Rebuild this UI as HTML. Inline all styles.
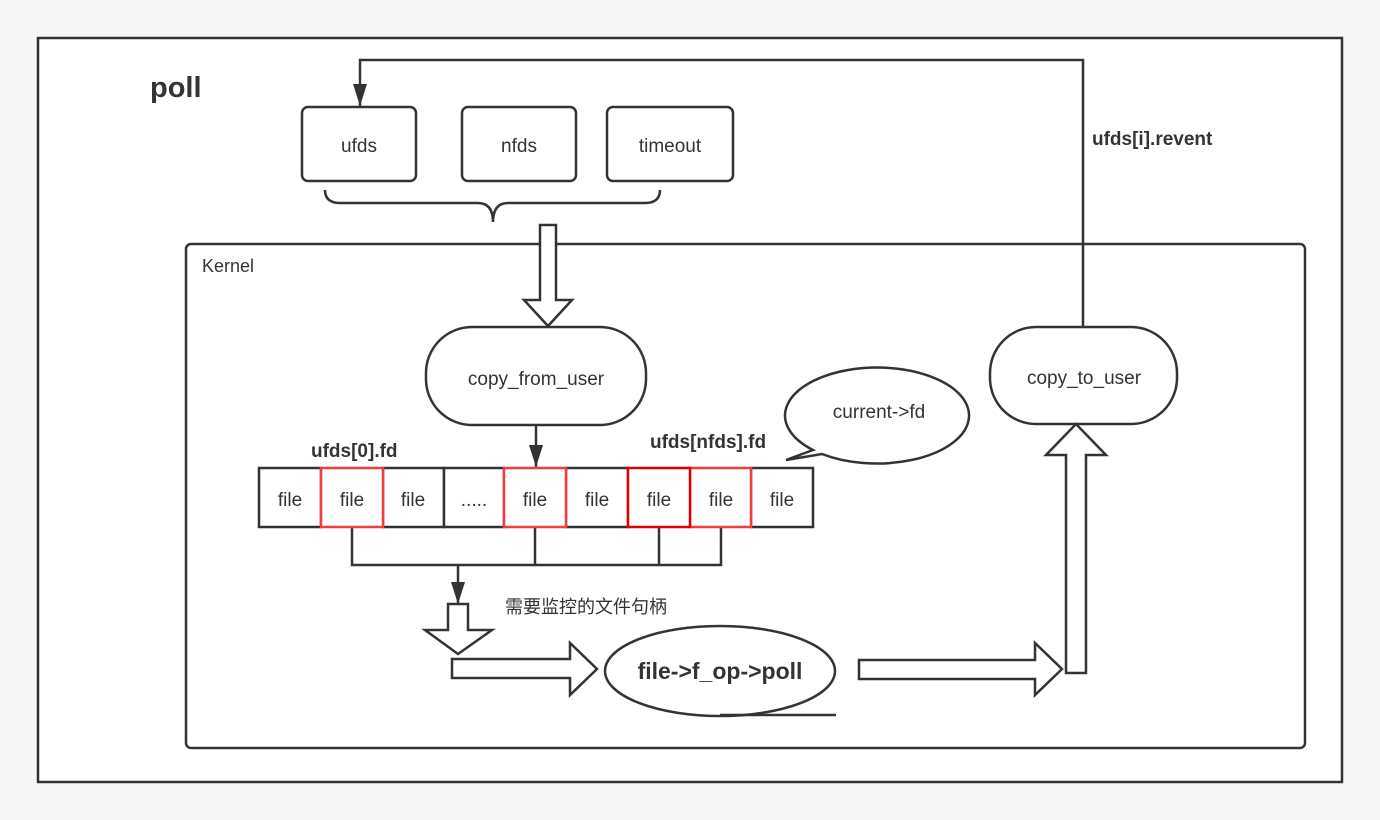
<!DOCTYPE html>
<html><head><meta charset="utf-8"><style>
html,body{margin:0;padding:0;background:#fff;}
svg{display:block;}
text{font-family:"Liberation Sans","Noto Sans CJK SC",sans-serif;fill:#333;}
</style></head><body>
<svg width="1380" height="820" viewBox="0 0 1380 820" xmlns="http://www.w3.org/2000/svg">
<defs>
<marker id="ah" markerWidth="24" markerHeight="16" refX="22" refY="7" orient="auto" markerUnits="userSpaceOnUse">
<path d="M0,0 L22,7 L0,14 Z" fill="#333"/></marker>
</defs>
<rect x="0" y="0" width="1380" height="820" fill="#f7f7f7"/>
<g stroke="#333" stroke-width="2.5" fill="none">
<rect x="38" y="38" width="1304" height="744" fill="#fff"/>
<rect x="186" y="244" width="1119" height="504" rx="5" fill="#fff"/>
<rect x="302" y="107" width="114" height="74" rx="6" fill="#fff"/>
<rect x="462" y="107" width="114" height="74" rx="6" fill="#fff"/>
<rect x="607" y="107" width="126" height="74" rx="6" fill="#fff"/>
<path d="M325,190 Q325,203 340,203 L478,203 Q493,203 493,222 Q493,203 508,203 L645,203 Q660,203 660,190"/>
<polygon points="540,225 556,225 556,300 572,300 548,326 524,300 540,300" fill="#fff"/>
<rect x="426" y="327" width="220" height="98" rx="46" fill="#fff"/>
<rect x="990" y="327" width="187" height="97" rx="46" fill="#fff"/>
<line x1="536" y1="425" x2="536" y2="467" marker-end="url(#ah)" stroke-width="2.5"/>
<path d="M1083,327 L1083,60 L360,60 L360,106" marker-end="url(#ah)"/>
<path d="M352,527 L352,565 L721,565 L721,527 M535,527 L535,565 M659,527 L659,565"/>
<line x1="458" y1="565" x2="458" y2="604" marker-end="url(#ah)"/>
<polygon points="448,604 468,604 468,630 492,630 458,654 425,630 448,630" fill="#fff"/>
<polygon points="452,659 570,659 570,643 597,669 570,695 570,678 452,678" fill="#fff"/>
<ellipse cx="720" cy="671" rx="115" ry="45" fill="#fff"/>
<line x1="720" y1="715" x2="836" y2="715"/>
<polygon points="859,660 1035,660 1035,643 1062,669 1035,695 1035,679 859,679" fill="#fff"/>
<polygon points="1066,673 1086,673 1086,455 1106,455 1076,424 1046,455 1066,455" fill="#fff"/>
<path d="M813,450 A92,48 0 1 1 822,454 L786,460 Z" fill="#fff"/>
</g>
<g stroke-width="2.5" fill="#fff">
<rect x="259" y="468" width="62" height="59" stroke="#333"/>
<rect x="383" y="468" width="61" height="59" stroke="#333"/>
<rect x="444" y="468" width="60" height="59" stroke="#333"/>
<rect x="566" y="468" width="62" height="59" stroke="#333"/>
<rect x="751" y="468" width="62" height="59" stroke="#333"/>
<rect x="321" y="468" width="62" height="59" stroke="#f03c3c"/>
<rect x="504" y="468" width="62" height="59" stroke="#f03c3c"/>
<rect x="690" y="468" width="61" height="59" stroke="#f03c3c"/>
<rect x="628" y="468" width="62" height="59" stroke="#e00000"/>
</g>
<g font-size="19" text-anchor="middle">
<text x="359" y="152">ufds</text>
<text x="519" y="152">nfds</text>
<text x="670" y="152">timeout</text>
<text x="536" y="385">copy_from_user</text>
<text x="1084" y="384">copy_to_user</text>
<text x="879" y="418">current-&gt;fd</text>
<text x="290" y="506">file</text><text x="352" y="506">file</text><text x="413" y="506">file</text>
<text x="474" y="506">.....</text><text x="535" y="506">file</text><text x="597" y="506">file</text>
<text x="659" y="506">file</text><text x="721" y="506">file</text><text x="782" y="506">file</text>
</g>
<text x="150" y="97" font-size="29" font-weight="bold">poll</text>
<text x="202" y="272" font-size="18">Kernel</text>
<text x="1092" y="145" font-size="19" font-weight="bold">ufds[i].revent</text>
<text x="311" y="457" font-size="19" font-weight="bold">ufds[0].fd</text>
<text x="650" y="448" font-size="19" font-weight="bold">ufds[nfds].fd</text>
<text x="505" y="613" font-size="18">需要监控的文件句柄</text>
<text x="720" y="679" font-size="23" font-weight="bold" text-anchor="middle">file-&gt;f_op-&gt;poll</text>
</svg>
</body></html>
